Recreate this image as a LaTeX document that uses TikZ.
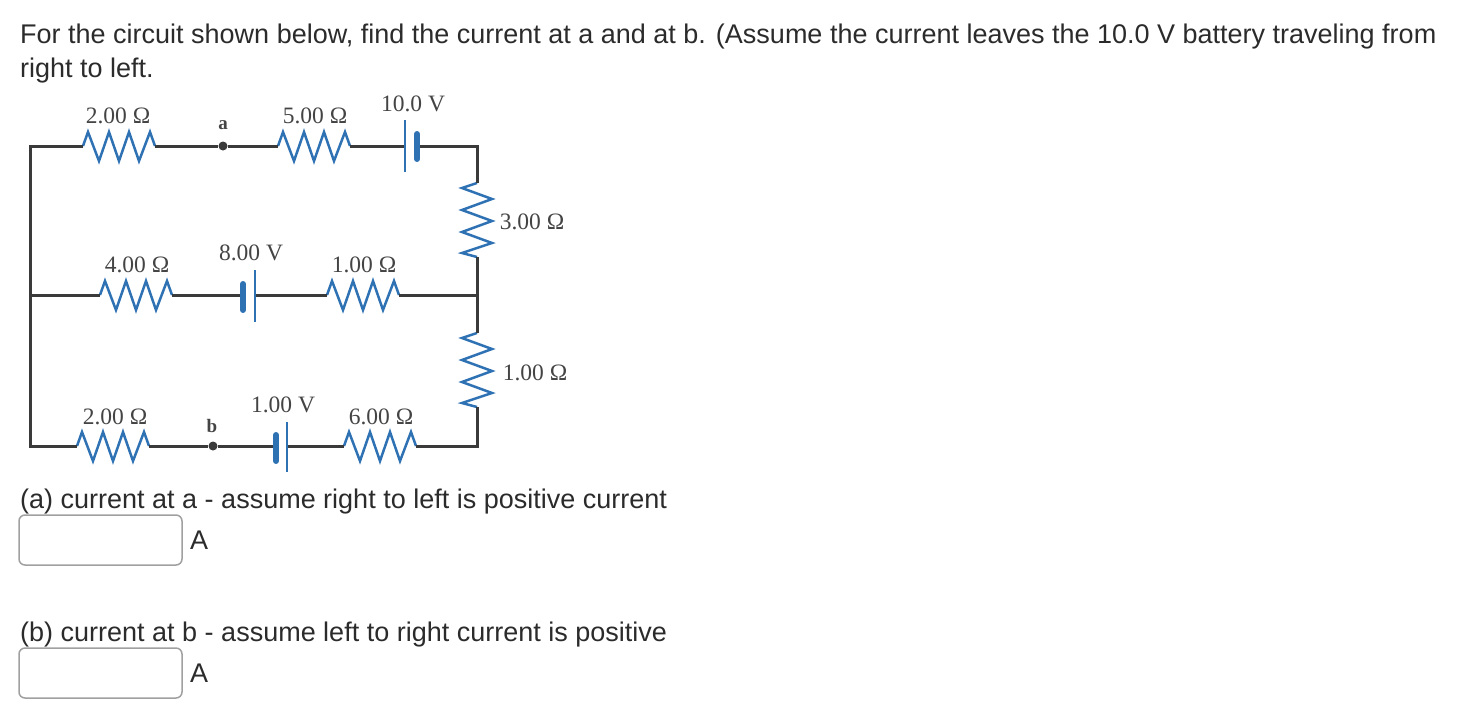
\documentclass[tikz,border=0pt]{standalone}
\usepackage{fontspec}
\setmainfont{Liberation Sans}
\newfontfamily\lblfont{Liberation Serif}
\definecolor{wirec}{HTML}{3A3A3A}
\definecolor{zigc}{HTML}{2F72B4}
\definecolor{txtc}{HTML}{2B2B2B}
\definecolor{lblc}{HTML}{444444}
\definecolor{boxc}{HTML}{A0A0A0}
\tikzset{
  wire/.style={draw=wirec,line width=3pt,line cap=butt,line join=miter},
  zig/.style={draw=zigc,line width=2.5pt,line join=miter},
  thinplate/.style={draw=zigc,line width=2.2pt},
  thickplate/.style={draw=zigc,line width=6pt,line cap=round},
  qtext/.style={anchor=base west,inner sep=0pt,text=txtc,font=\fontsize{27}{31}\selectfont},
  lbl/.style={inner sep=0pt,text=lblc,font=\lblfont\fontsize{23.5}{27}\selectfont},
  ptlbl/.style={inner sep=0pt,text=lblc,font=\lblfont\bfseries\fontsize{19}{22}\selectfont},
  dotnode/.style={circle,fill=wirec,inner sep=0pt,minimum size=9pt},
  answer/.style={draw=boxc,line width=1.5pt,rounded corners=6pt,fill=white,minimum width=163pt,minimum height=50pt,inner sep=0pt}
}
% horizontal resistor: left end x, wire y
\newcommand{\hresistor}[3]{%
  \coordinate (#1-l) at (#2,#3);
  \coordinate (#1-r) at (#2+72,#3);
  \draw[zig] (#1-l) -- ++(5,-14) -- ++(11,29) -- ++(10,-29) -- ++(10,29) -- ++(10,-29) -- ++(10,29) -- ++(11,-29) -- (#1-r);
}
% vertical resistor: wire x, top end y
\newcommand{\vresistor}[3]{%
  \coordinate (#1-t) at (#2,#3);
  \coordinate (#1-b) at (#2,#3+74);
  \draw[zig] (#1-t) -- ++(-15,5) -- ++(30,11) -- ++(-30,11) -- ++(30,11) -- ++(-30,11) -- ++(30,11) -- ++(-30,10) -- (#1-b);
}
\begin{document}
\begin{tikzpicture}[x=1pt,y=-1pt]
\useasboundingbox (0,0) rectangle (1466,713);
% corners and junctions
\coordinate (tl) at (30,146);
\coordinate (tr) at (477,146);
\coordinate (ml) at (30,295);
\coordinate (mr) at (477,295);
\coordinate (bl) at (30,446);
\coordinate (br) at (477,446);
% components
\hresistor{ra}{83}{146}
\hresistor{rb}{278}{146}
\hresistor{rc}{100}{295}
\hresistor{rd}{327}{295}
\hresistor{re}{77}{446}
\hresistor{rf}{344}{446}
\vresistor{rg}{477}{183}
\vresistor{rh}{477}{333}
\node[dotnode] (a) at (223,146) {};
\node[dotnode] (b) at (213,446) {};
% cell terminals
\coordinate (c1-l) at (405,146); \coordinate (c1-r) at (417,146);
\coordinate (c2-l) at (243,295); \coordinate (c2-r) at (255,295);
\coordinate (c3-l) at (276,446); \coordinate (c3-r) at (287,446);
% wires
\draw[wire] (ra-l) -- (tl) -- (bl) -- (re-l);
\draw[wire] (ra-r) -- (a) -- (rb-l);
\draw[wire] (rb-r) -- (c1-l);
\draw[wire] (c1-r) -- (tr) -- (rg-t);
\draw[wire] (rg-b) -- (rh-t);
\draw[wire] (rh-b) -- (br) -- (rf-r);
\draw[wire] (ml) -- (rc-l);
\draw[wire] (rc-r) -- (c2-l);
\draw[wire] (c2-r) -- (rd-l);
\draw[wire] (rd-r) -- (mr);
\draw[wire] (re-r) -- (b) -- (c3-l);
\draw[wire] (c3-r) -- (rf-l);
% cell plates
\draw[thinplate] (405,120) -- (405,172);
\draw[thickplate] (417,134) -- (417,159);
\draw[thickplate] (243,284) -- (243,310);
\draw[thinplate] (255,270) -- (255,322);
\draw[thickplate] (276,435) -- (276,461);
\draw[thinplate] (287,422) -- (287,472);
% labels
\node[lbl] (la) at (118,116) {2.00 Ω};
\node[ptlbl] (lpa) at (223,125) {a};
\node[lbl] (lb) at (315,116) {5.00 Ω};
\node[lbl] (lv1) at (413,104) {10.0 V};
\node[lbl] (lg) at (532,222) {3.00 Ω};
\node[lbl] (lc) at (137,265) {4.00 Ω};
\node[lbl] (lv2) at (251,253) {8.00 V};
\node[lbl] (ld) at (364,265) {1.00 Ω};
\node[lbl] (lh) at (535,373) {1.00 Ω};
\node[lbl] (le) at (115,417) {2.00 Ω};
\node[ptlbl] (lpb) at (212,426) {b};
\node[lbl] (lv3) at (283,405) {1.00 V};
\node[lbl] (lf) at (381,417) {6.00 Ω};
% question text
\node[answer] (boxa) at (100.5,540) {};
\node[answer] (boxb) at (100.5,673) {};
\node[qtext] (q1) at (20,43) {For the circuit shown below, find the current at a and at b. (Assume the current leaves the 10.0 V battery traveling from};
\node[qtext] (q2) at (20,77) {right to left.};
\node[qtext] (qa) at (20,508) {(a) current at a - assume right to left is positive current};
\node[qtext] (ua) at (190,549) {A};
\node[qtext] (qb) at (20,641) {(b) current at b - assume left to right current is positive};
\node[qtext] (ub) at (190,682) {A};
\end{tikzpicture}
\end{document}
